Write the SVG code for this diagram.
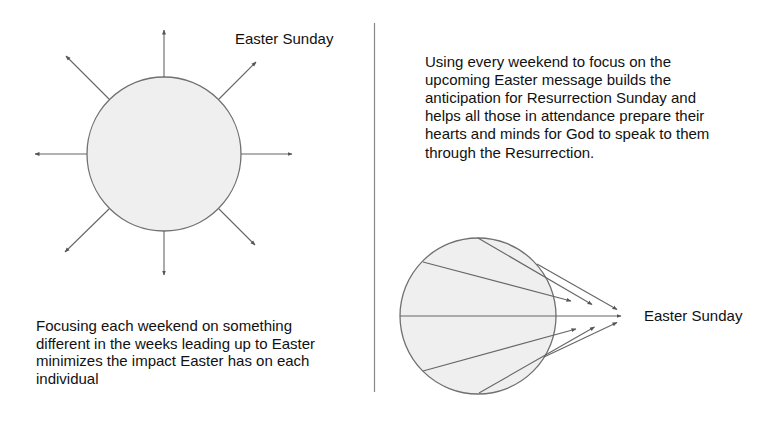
<svg xmlns="http://www.w3.org/2000/svg" width="768" height="432" viewBox="0 0 768 432">
<style>
.c{fill:#efefef;stroke:#707070;stroke-width:1.3}
.l{stroke:#666;stroke-width:1.1;fill:none;marker-end:url(#ah)}
.t{font-family:"Liberation Sans",Arial,sans-serif;font-size:15px;fill:#111}
</style>
<defs>
<marker id="ah" viewBox="0 0 10 10" refX="9" refY="5" markerWidth="5" markerHeight="5" orient="auto" markerUnits="userSpaceOnUse">
<path d="M0,1 L10,5 L0,9 Z" fill="#555"/>
</marker>
</defs>
<rect width="768" height="432" fill="#fff"/>
<g id="divider"><line x1="374.5" y1="23" x2="374.5" y2="392" stroke="#888" stroke-width="1.2"/></g>
<g id="left-circle"><circle class="c" cx="164" cy="154" r="77"/></g>
<g id="right-circle"><circle class="c" cx="478" cy="316" r="78"/></g>
<g id="connectors">
<line class="l" x1="164" y1="77" x2="164" y2="30"/>
<line class="l" x1="164" y1="231" x2="164" y2="275"/>
<line class="l" x1="87" y1="154" x2="35" y2="154"/>
<line class="l" x1="241" y1="154" x2="292" y2="154"/>
<line class="l" x1="109" y1="99" x2="66" y2="56"/>
<line class="l" x1="219" y1="99" x2="256" y2="62"/>
<line class="l" x1="109" y1="209" x2="65" y2="252"/>
<line class="l" x1="219" y1="209" x2="255" y2="245"/>
<line class="l" x1="400" y1="316" x2="621" y2="316"/>
<line class="l" x1="478" y1="238" x2="592" y2="304.5"/>
<line class="l" x1="423" y1="262" x2="571" y2="301"/>
<line class="l" x1="537" y1="264" x2="617" y2="309.5"/>
<line class="l" x1="423" y1="371" x2="576" y2="329"/>
<line class="l" x1="479" y1="393" x2="594.5" y2="327"/>
<line class="l" x1="544" y1="357" x2="617" y2="322.5"/>
</g>
<g id="label-top"><text class="t" x="235" y="44">Easter Sunday</text></g>
<g id="label-right"><text class="t" x="644" y="321">Easter Sunday</text></g>
<g id="text-left"><text class="t" x="36" y="331">
<tspan x="36" y="331">Focusing each weekend on something</tspan>
<tspan x="36" y="348.7">different in the weeks leading up to Easter</tspan>
<tspan x="36" y="366.4">minimizes the impact Easter has on each</tspan>
<tspan x="36" y="384">individual</tspan>
</text></g>
<g id="text-right"><text class="t">
<tspan x="425" y="66.5">Using every weekend to focus on the</tspan>
<tspan x="425" y="84.7">upcoming Easter message builds the</tspan>
<tspan x="425" y="102.9">anticipation for Resurrection Sunday and</tspan>
<tspan x="425" y="121.1">helps all those in attendance prepare their</tspan>
<tspan x="425" y="139.3">hearts and minds for God to speak to them</tspan>
<tspan x="425" y="157.5">through the Resurrection.</tspan>
</text></g>
</svg>
